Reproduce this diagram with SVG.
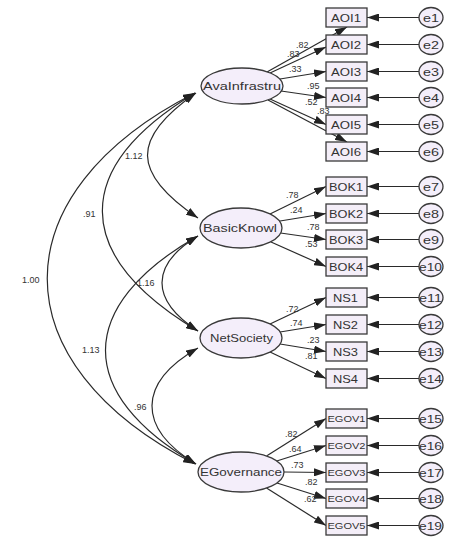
<svg xmlns="http://www.w3.org/2000/svg" width="474" height="555" viewBox="0 0 474 555">
<style>
.lat{fill:#f4eefa;stroke:#3a3a3a;stroke-width:1.3}
.box{fill:#f4eef8;stroke:#3a3a3a;stroke-width:1.3}
.err{fill:#f4eefa;stroke:#3a3a3a;stroke-width:1.3}
.t{font-family:"Liberation Sans",Arial,sans-serif;font-size:11px;fill:#333}
.s{font-family:"Liberation Sans",Arial,sans-serif;font-size:9px;fill:#333}
.c{fill:none;stroke:#2a2a2a;stroke-width:1.2}
.a{marker-end:url(#ah)}
.d{marker-start:url(#ah);marker-end:url(#ah)}
</style>
<defs>
<marker id="ah" viewBox="0 0 12 8" refX="12" refY="4" markerWidth="12" markerHeight="8" orient="auto-start-reverse" markerUnits="userSpaceOnUse"><path d="M0,0 L12,4 L0,8 z" fill="#222"/></marker>
</defs>
<rect width="474" height="555" fill="#fff"/>
<g id="connectors">
<path class="c d" d="M195,93 C-2,193 -2,364 195,464"/>
<path class="c d" d="M195,93 C71,168 71,255 198,331"/>
<path class="c d" d="M196,93 C131,138 131,173 198,218"/>
<path class="c d" d="M198,236 C150,265 150,300 198,331"/>
<path class="c d" d="M198,236 C75,306 75,394 196,464"/>
<path class="c d" d="M198,348 C137,383 137,428 196,464"/>
<line class="c a" x1="267" y1="72" x2="347" y2="27"/>
<line class="c a" x1="270" y1="73" x2="326" y2="47"/>
<line class="c a" x1="280" y1="79" x2="326" y2="71.5"/>
<line class="c a" x1="281" y1="91" x2="326" y2="97.5"/>
<line class="c a" x1="270" y1="99" x2="326" y2="124.5"/>
<line class="c a" x1="268" y1="100" x2="347" y2="142"/>
<line class="c a" x1="270" y1="214" x2="326" y2="186.5"/>
<line class="c a" x1="280" y1="221" x2="326" y2="213.5"/>
<line class="c a" x1="280.5" y1="233" x2="326" y2="239.5"/>
<line class="c a" x1="271" y1="242" x2="326" y2="266.5"/>
<line class="c a" x1="270" y1="324" x2="326" y2="297.5"/>
<line class="c a" x1="280" y1="332" x2="326" y2="324.5"/>
<line class="c a" x1="280" y1="344" x2="326" y2="351.5"/>
<line class="c a" x1="270" y1="352" x2="326" y2="378.5"/>
<line class="c a" x1="266.5" y1="456" x2="326" y2="418.5"/>
<line class="c a" x1="276.7" y1="461" x2="326" y2="445.5"/>
<line class="c a" x1="284" y1="472" x2="326" y2="472.5"/>
<line class="c a" x1="277" y1="483" x2="326" y2="498.5"/>
<line class="c a" x1="266.5" y1="488" x2="326" y2="525.5"/>
<line class="c a" x1="419" y1="17.5" x2="367" y2="17.5"/>
<line class="c a" x1="419" y1="44.5" x2="367" y2="44.5"/>
<line class="c a" x1="419" y1="71.5" x2="367" y2="71.5"/>
<line class="c a" x1="419" y1="97.5" x2="367" y2="97.5"/>
<line class="c a" x1="419" y1="124.5" x2="367" y2="124.5"/>
<line class="c a" x1="419" y1="151.5" x2="367" y2="151.5"/>
<line class="c a" x1="419" y1="186.5" x2="367" y2="186.5"/>
<line class="c a" x1="419" y1="213.5" x2="367" y2="213.5"/>
<line class="c a" x1="419" y1="239.5" x2="367" y2="239.5"/>
<line class="c a" x1="419" y1="266.5" x2="367" y2="266.5"/>
<line class="c a" x1="419" y1="297.5" x2="367" y2="297.5"/>
<line class="c a" x1="419" y1="324.5" x2="367" y2="324.5"/>
<line class="c a" x1="419" y1="351.5" x2="367" y2="351.5"/>
<line class="c a" x1="419" y1="378.5" x2="367" y2="378.5"/>
<line class="c a" x1="419" y1="418.5" x2="367" y2="418.5"/>
<line class="c a" x1="419" y1="445.5" x2="367" y2="445.5"/>
<line class="c a" x1="419" y1="472.5" x2="367" y2="472.5"/>
<line class="c a" x1="419" y1="498.5" x2="367" y2="498.5"/>
<line class="c a" x1="419" y1="525.5" x2="367" y2="525.5"/>
<text class="s" x="125" y="159">1.12</text>
<text class="s" x="83" y="217">.91</text>
<text class="s" x="22" y="283">1.00</text>
<text class="s" x="137" y="286">1.16</text>
<text class="s" x="82" y="353">1.13</text>
<text class="s" x="134" y="410">.96</text>
<text class="s" x="296" y="48">.82</text>
<text class="s" x="287" y="57">.83</text>
<text class="s" x="289" y="72">.33</text>
<text class="s" x="307" y="89">.95</text>
<text class="s" x="305" y="105">.52</text>
<text class="s" x="317" y="114">.83</text>
<text class="s" x="286" y="198">.78</text>
<text class="s" x="290" y="213">.24</text>
<text class="s" x="307" y="230">.78</text>
<text class="s" x="305" y="247">.53</text>
<text class="s" x="286" y="312">.72</text>
<text class="s" x="290" y="326">.74</text>
<text class="s" x="307" y="343">.23</text>
<text class="s" x="305" y="359">.81</text>
<text class="s" x="285" y="437">.82</text>
<text class="s" x="289" y="452">.64</text>
<text class="s" x="291" y="468">.73</text>
<text class="s" x="305" y="485">.82</text>
<text class="s" x="304" y="502">.62</text>
</g>
<g id="AvaInfrastru"><ellipse class="lat" cx="242" cy="86" rx="41" ry="18"/><text class="t" x="203" y="90" textLength="78" lengthAdjust="spacingAndGlyphs">AvaInfrastru</text></g>
<g id="BasicKnowl"><ellipse class="lat" cx="241" cy="228" rx="41" ry="20"/><text class="t" x="203" y="232" textLength="74" lengthAdjust="spacingAndGlyphs">BasicKnowl</text></g>
<g id="NetSociety"><ellipse class="lat" cx="241" cy="338" rx="41" ry="20"/><text class="t" x="210" y="342" textLength="63" lengthAdjust="spacingAndGlyphs">NetSociety</text></g>
<g id="EGovernance"><ellipse class="lat" cx="241" cy="472" rx="43" ry="20"/><text class="t" x="200" y="476" textLength="82" lengthAdjust="spacingAndGlyphs">EGovernance</text></g>
<g id="AOI1"><rect class="box" x="326" y="8" width="41" height="19"/><text class="t" x="331" y="21.5" textLength="30" lengthAdjust="spacingAndGlyphs">AOI1</text></g>
<g id="AOI2"><rect class="box" x="326" y="35" width="41" height="19"/><text class="t" x="331" y="48.5" textLength="30" lengthAdjust="spacingAndGlyphs">AOI2</text></g>
<g id="AOI3"><rect class="box" x="326" y="62" width="41" height="19"/><text class="t" x="331" y="75.5" textLength="30" lengthAdjust="spacingAndGlyphs">AOI3</text></g>
<g id="AOI4"><rect class="box" x="326" y="88" width="41" height="19"/><text class="t" x="331" y="101.5" textLength="30" lengthAdjust="spacingAndGlyphs">AOI4</text></g>
<g id="AOI5"><rect class="box" x="326" y="115" width="41" height="19"/><text class="t" x="331" y="128.5" textLength="30" lengthAdjust="spacingAndGlyphs">AOI5</text></g>
<g id="AOI6"><rect class="box" x="326" y="142" width="41" height="19"/><text class="t" x="331" y="155.5" textLength="30" lengthAdjust="spacingAndGlyphs">AOI6</text></g>
<g id="BOK1"><rect class="box" x="326" y="177" width="41" height="19"/><text class="t" x="329" y="190.5" textLength="34" lengthAdjust="spacingAndGlyphs">BOK1</text></g>
<g id="BOK2"><rect class="box" x="326" y="204" width="41" height="19"/><text class="t" x="329" y="217.5" textLength="34" lengthAdjust="spacingAndGlyphs">BOK2</text></g>
<g id="BOK3"><rect class="box" x="326" y="230" width="41" height="19"/><text class="t" x="329" y="243.5" textLength="34" lengthAdjust="spacingAndGlyphs">BOK3</text></g>
<g id="BOK4"><rect class="box" x="326" y="257" width="41" height="19"/><text class="t" x="329" y="270.5" textLength="34" lengthAdjust="spacingAndGlyphs">BOK4</text></g>
<g id="NS1"><rect class="box" x="326" y="288" width="41" height="19"/><text class="t" x="333" y="301.5" textLength="25" lengthAdjust="spacingAndGlyphs">NS1</text></g>
<g id="NS2"><rect class="box" x="326" y="315" width="41" height="19"/><text class="t" x="333" y="328.5" textLength="25" lengthAdjust="spacingAndGlyphs">NS2</text></g>
<g id="NS3"><rect class="box" x="326" y="342" width="41" height="19"/><text class="t" x="333" y="355.5" textLength="25" lengthAdjust="spacingAndGlyphs">NS3</text></g>
<g id="NS4"><rect class="box" x="326" y="369" width="41" height="19"/><text class="t" x="333" y="382.5" textLength="25" lengthAdjust="spacingAndGlyphs">NS4</text></g>
<g id="EGOV1"><rect class="box" x="326" y="409" width="41" height="19"/><text class="s" x="327.5" y="422" textLength="38" lengthAdjust="spacingAndGlyphs">EGOV1</text></g>
<g id="EGOV2"><rect class="box" x="326" y="436" width="41" height="19"/><text class="s" x="327.5" y="449" textLength="38" lengthAdjust="spacingAndGlyphs">EGOV2</text></g>
<g id="EGOV3"><rect class="box" x="326" y="463" width="41" height="19"/><text class="s" x="327.5" y="476" textLength="38" lengthAdjust="spacingAndGlyphs">EGOV3</text></g>
<g id="EGOV4"><rect class="box" x="326" y="489" width="41" height="19"/><text class="s" x="327.5" y="502" textLength="38" lengthAdjust="spacingAndGlyphs">EGOV4</text></g>
<g id="EGOV5"><rect class="box" x="326" y="516" width="41" height="19"/><text class="s" x="327.5" y="529" textLength="38" lengthAdjust="spacingAndGlyphs">EGOV5</text></g>
<g id="e1"><ellipse class="err" cx="431" cy="17.5" rx="12" ry="10"/><text class="t" x="423" y="21.5" textLength="16" lengthAdjust="spacingAndGlyphs">e1</text></g>
<g id="e2"><ellipse class="err" cx="431" cy="44.5" rx="12" ry="10"/><text class="t" x="423" y="48.5" textLength="16" lengthAdjust="spacingAndGlyphs">e2</text></g>
<g id="e3"><ellipse class="err" cx="431" cy="71.5" rx="12" ry="10"/><text class="t" x="423" y="75.5" textLength="16" lengthAdjust="spacingAndGlyphs">e3</text></g>
<g id="e4"><ellipse class="err" cx="431" cy="97.5" rx="12" ry="10"/><text class="t" x="423" y="101.5" textLength="16" lengthAdjust="spacingAndGlyphs">e4</text></g>
<g id="e5"><ellipse class="err" cx="431" cy="124.5" rx="12" ry="10"/><text class="t" x="423" y="128.5" textLength="16" lengthAdjust="spacingAndGlyphs">e5</text></g>
<g id="e6"><ellipse class="err" cx="431" cy="151.5" rx="12" ry="10"/><text class="t" x="423" y="155.5" textLength="16" lengthAdjust="spacingAndGlyphs">e6</text></g>
<g id="e7"><ellipse class="err" cx="431" cy="186.5" rx="12" ry="10"/><text class="t" x="423" y="190.5" textLength="16" lengthAdjust="spacingAndGlyphs">e7</text></g>
<g id="e8"><ellipse class="err" cx="431" cy="213.5" rx="12" ry="10"/><text class="t" x="423" y="217.5" textLength="16" lengthAdjust="spacingAndGlyphs">e8</text></g>
<g id="e9"><ellipse class="err" cx="431" cy="239.5" rx="12" ry="10"/><text class="t" x="423" y="243.5" textLength="16" lengthAdjust="spacingAndGlyphs">e9</text></g>
<g id="e10"><ellipse class="err" cx="431" cy="266.5" rx="12" ry="10"/><text class="t" x="419" y="270.5" textLength="23" lengthAdjust="spacingAndGlyphs">e10</text></g>
<g id="e11"><ellipse class="err" cx="431" cy="297.5" rx="12" ry="10"/><text class="t" x="419" y="301.5" textLength="23" lengthAdjust="spacingAndGlyphs">e11</text></g>
<g id="e12"><ellipse class="err" cx="431" cy="324.5" rx="12" ry="10"/><text class="t" x="419" y="328.5" textLength="23" lengthAdjust="spacingAndGlyphs">e12</text></g>
<g id="e13"><ellipse class="err" cx="431" cy="351.5" rx="12" ry="10"/><text class="t" x="419" y="355.5" textLength="23" lengthAdjust="spacingAndGlyphs">e13</text></g>
<g id="e14"><ellipse class="err" cx="431" cy="378.5" rx="12" ry="10"/><text class="t" x="419" y="382.5" textLength="23" lengthAdjust="spacingAndGlyphs">e14</text></g>
<g id="e15"><ellipse class="err" cx="431" cy="418.5" rx="12" ry="10"/><text class="t" x="419" y="422.5" textLength="23" lengthAdjust="spacingAndGlyphs">e15</text></g>
<g id="e16"><ellipse class="err" cx="431" cy="445.5" rx="12" ry="10"/><text class="t" x="419" y="449.5" textLength="23" lengthAdjust="spacingAndGlyphs">e16</text></g>
<g id="e17"><ellipse class="err" cx="431" cy="472.5" rx="12" ry="10"/><text class="t" x="419" y="476.5" textLength="23" lengthAdjust="spacingAndGlyphs">e17</text></g>
<g id="e18"><ellipse class="err" cx="431" cy="498.5" rx="12" ry="10"/><text class="t" x="419" y="502.5" textLength="23" lengthAdjust="spacingAndGlyphs">e18</text></g>
<g id="e19"><ellipse class="err" cx="431" cy="525.5" rx="12" ry="10"/><text class="t" x="419" y="529.5" textLength="23" lengthAdjust="spacingAndGlyphs">e19</text></g>
</svg>
